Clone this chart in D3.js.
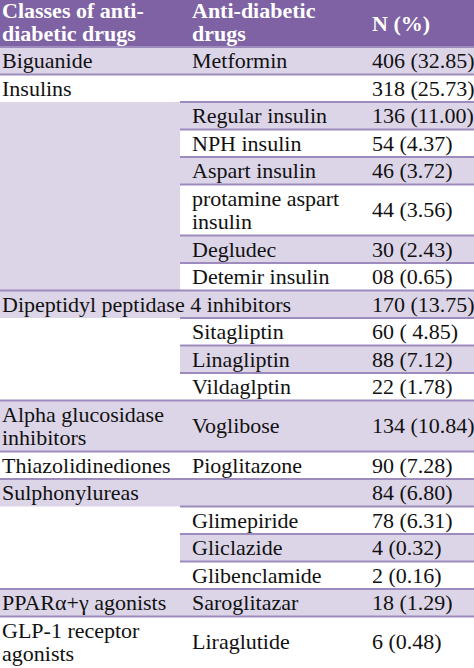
<!DOCTYPE html>
<html><head><meta charset="utf-8">
<script src="https://cdn.jsdelivr.net/npm/d3@7"></script>
<style>body{margin:0;background:#fff}</style></head>
<body><svg id="c" width="474" height="668"></svg>
<script>
const headers = [["Classes of anti-","diabetic drugs"],["Anti-diabetic","drugs"],["N (%)"]];
const classes = [["Biguanide"],["Insulins"],[],[],[],[],[],[],["Dipeptidyl peptidase 4 inhibitors"],[],[],[],["Alpha glucosidase","inhibitors"],["Thiazolidinediones"],["Sulphonylureas"],[],[],[],["PPARα+γ agonists"],["GLP-1 receptor","agonists"]];
const drugs = [["Metformin"],[],["Regular insulin"],["NPH insulin"],["Aspart insulin"],["protamine aspart","insulin"],["Degludec"],["Detemir insulin"],[],["Sitagliptin"],["Linagliptin"],["Vildaglptin"],["Voglibose"],["Pioglitazone"],[],["Glimepiride"],["Gliclazide"],["Glibenclamide"],["Saroglitazar"],["Liraglutide"]];
const nLabels = ["406 (32.85)","318 (25.73)","136 (11.00)","54 (4.37)","46 (3.72)","44 (3.56)","30 (2.43)","08 (0.65)","170 (13.75)","60 ( 4.85)","88 (7.12)","22 (1.78)","134 (10.84)","90 (7.28)","84 (6.80)","78 (6.31)","4 (0.32)","2 (0.16)","18 (1.29)","6 (0.48)"];
// layout: sub-row flag and shading
const isSub = [0,0,1,1,1,1,1,1,0,1,1,1,0,0,0,1,1,1,0,0];
const shaded = [1,0,1,0,1,0,1,0,1,0,1,0,1,0,1,0,1,0,1,0];
const groupShade = {2:1, 9:0, 15:0};

const LAV="#dcd5e8", PUR="#7e62a3", LINE="#9e8bbd";
const W=474, colX=[0,180,362], textX=[2,192,372];
const svg=d3.select("#c");
const font="Liberation Serif, Times New Roman, serif";
const FS=22;
const headH=47, h1=27.5, h2=51;
const rows=nLabels.map((n,i)=>{
  const lines=Math.max(classes[i].length,drugs[i].length,1);
  return {i,n,cls:classes[i],drug:drugs[i],h:lines>1?h2:h1,sub:isSub[i],sh:shaded[i]};
});
let y=headH; rows.forEach(r=>{r.y=y;y+=r.h;});
svg.append("rect").attr("x",0).attr("y",0).attr("width",W).attr("height",headH).attr("fill",PUR);
headers.forEach((hd,c)=>{
  const t=svg.append("text").attr("x",textX[c]).attr("font-family",font).attr("font-size",FS).attr("font-weight","bold").attr("fill","#fff");
  if(hd.length===1) t.attr("y",31).text(hd[0]);
  else hd.forEach((s,k)=>t.append("tspan").attr("x",textX[c]).attr("y",18+k*23).text(s));
});
Object.keys(groupShade).forEach(k=>{
  const s=+k; let e=s; while(e+1<rows.length&&rows[e+1].sub) e++;
  svg.append("rect").attr("x",0).attr("y",rows[s].y).attr("width",colX[1]).attr("height",rows[e].y+rows[e].h-rows[s].y).attr("fill",groupShade[k]?LAV:"#fff");
});
const g=svg.selectAll("g.row").data(rows).join("g");
g.append("rect").attr("x",d=>d.sub?colX[1]:0).attr("y",d=>d.y).attr("width",d=>d.sub?W-colX[1]:W).attr("height",d=>d.h).attr("fill",d=>d.sh?LAV:"#fff");
function txt(sel,getter,c){
  sel.each(function(d){
    const arr=getter(d); if(!arr.length) return;
    const t=d3.select(this).append("text").attr("font-family",font).attr("font-size",FS).attr("fill","#111");
    const base=d.y+(d.h===h1?21:d.h/2+7-(arr.length-1)*11.5);
    arr.forEach((s,k)=>t.append("tspan").attr("x",textX[c]).attr("y",base+k*23).text(s));
  });
}
txt(g,d=>d.cls,0); txt(g,d=>d.drug,1); txt(g,d=>[d.n],2);
g.append("line").attr("x1",d=>d.sub?colX[1]:0).attr("x2",W).attr("y1",d=>d.y).attr("y2",d=>d.y).attr("stroke",LINE).attr("stroke-width",2);
</script></body></html>
